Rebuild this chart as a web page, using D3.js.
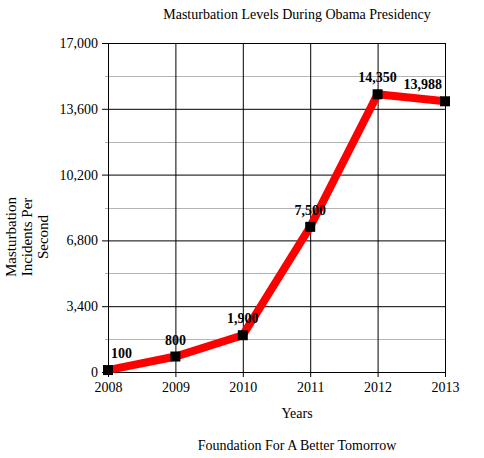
<!DOCTYPE html>
<html>
<head>
<meta charset="utf-8">
<script src="https://cdn.jsdelivr.net/npm/d3@7"></script>
<style>
  body { margin: 0; background: #fff; }
  svg { display: block; font-family: "Liberation Serif", "Times New Roman", serif; }
</style>
</head>
<body>
<div id="chart"></div>
<script>
"use strict";
var years = [2008, 2009, 2010, 2011, 2012, 2013];
var incidents = [100, 800, 1900, 7500, 14350, 13988];
var majorTicks = [0, 3400, 6800, 10200, 13600, 17000];
var minorTicks = [1700, 5100, 8500, 11900, 15300];

var width = 484, height = 458;
var margin = { top: 43, right: 39, bottom: 86, left: 108 };
var plotW = width - margin.left - margin.right;
var plotH = height - margin.top - margin.bottom;

var svg = d3.select("#chart").append("svg")
    .attr("width", width)
    .attr("height", height);

var x = d3.scalePoint().domain(years).range([0, plotW]);
var y = d3.scaleLinear().domain([0, 17000]).range([plotH, 0]);
var fmt = d3.format(",");

var g = svg.append("g")
    .attr("transform", "translate(" + margin.left + "," + margin.top + ")");

// minor grid (grey)
g.selectAll("line.minor").data(minorTicks).enter().append("line")
    .attr("class", "minor")
    .attr("x1", -3).attr("x2", plotW)
    .attr("y1", function (d) { return Math.round(y(d)) + 0.5; })
    .attr("y2", function (d) { return Math.round(y(d)) + 0.5; })
    .attr("stroke", "#b4b4b4").attr("stroke-width", 1);

// y axis with major grid
var yAxis = g.append("g")
    .call(d3.axisLeft(y).tickValues(majorTicks).tickFormat(fmt));
yAxis.select(".domain").remove();
yAxis.selectAll(".tick line").attr("x1", -6).attr("x2", plotW)
    .attr("stroke", "#000");
yAxis.selectAll(".tick text")
    .attr("x", -10)
    .style("font-family", "Liberation Serif")
    .style("font-size", "14px")
    .attr("fill", "#000");

// x axis with vertical grid
var xAxis = g.append("g")
    .attr("transform", "translate(0," + plotH + ")")
    .call(d3.axisBottom(x));
xAxis.select(".domain").remove();
xAxis.selectAll(".tick line").attr("y1", 5).attr("y2", -plotH).attr("stroke", "#000");
xAxis.selectAll(".tick text")
    .attr("y", 10)
    .style("font-family", "Liberation Serif")
    .style("font-size", "14px")
    .attr("fill", "#000");

// series line
var line = d3.line()
    .x(function (d, i) { return x(years[i]); })
    .y(function (d) { return y(d); });
g.append("path")
    .datum(incidents)
    .attr("d", line)
    .attr("fill", "none")
    .attr("stroke", "#ff0000")
    .attr("stroke-width", 8)
    .attr("stroke-linejoin", "miter");

// markers
g.selectAll("rect.marker").data(incidents).enter().append("rect")
    .attr("class", "marker")
    .attr("x", function (d, i) { return x(years[i]) - 5; })
    .attr("y", function (d) { return y(d) - 5; })
    .attr("width", 10).attr("height", 10)
    .attr("fill", "#000");

// value labels, kept inside the plot area
var labels = g.selectAll("text.val").data(incidents).enter().append("text")
    .attr("class", "val")
    .attr("text-anchor", "middle")
    .attr("font-size", "14px")
    .attr("font-weight", "bold")
    .attr("fill", "#000")
    .attr("y", function (d) { return y(d) - 12; })
    .text(function (d) { return fmt(d); });
labels.attr("x", function (d, i) {
    var half = this.getComputedTextLength() / 2;
    var cx = x(years[i]);
    return Math.max(half + 3, Math.min(plotW - half - 3, cx));
});

// titles
var cx = 297;
svg.append("text").attr("x", cx).attr("y", 19)
    .attr("text-anchor", "middle").attr("font-size", "14px")
    .text("Masturbation Levels During Obama Presidency");
svg.append("text").attr("x", cx).attr("y", 418)
    .attr("text-anchor", "middle").attr("font-size", "14px")
    .text("Years");
svg.append("text").attr("x", cx).attr("y", 450)
    .attr("text-anchor", "middle").attr("font-size", "14px")
    .text("Foundation For A Better Tomorrow");

var yTitle = svg.append("text")
    .attr("transform", "translate(16,237) rotate(-90)")
    .attr("text-anchor", "middle").attr("font-size", "15px");
["Masturbation", "Incidents Per", "Second"].forEach(function (t, i) {
    yTitle.append("tspan").attr("x", 0).attr("dy", i === 0 ? 0 : 16).text(t);
});
</script>
</body>
</html>
